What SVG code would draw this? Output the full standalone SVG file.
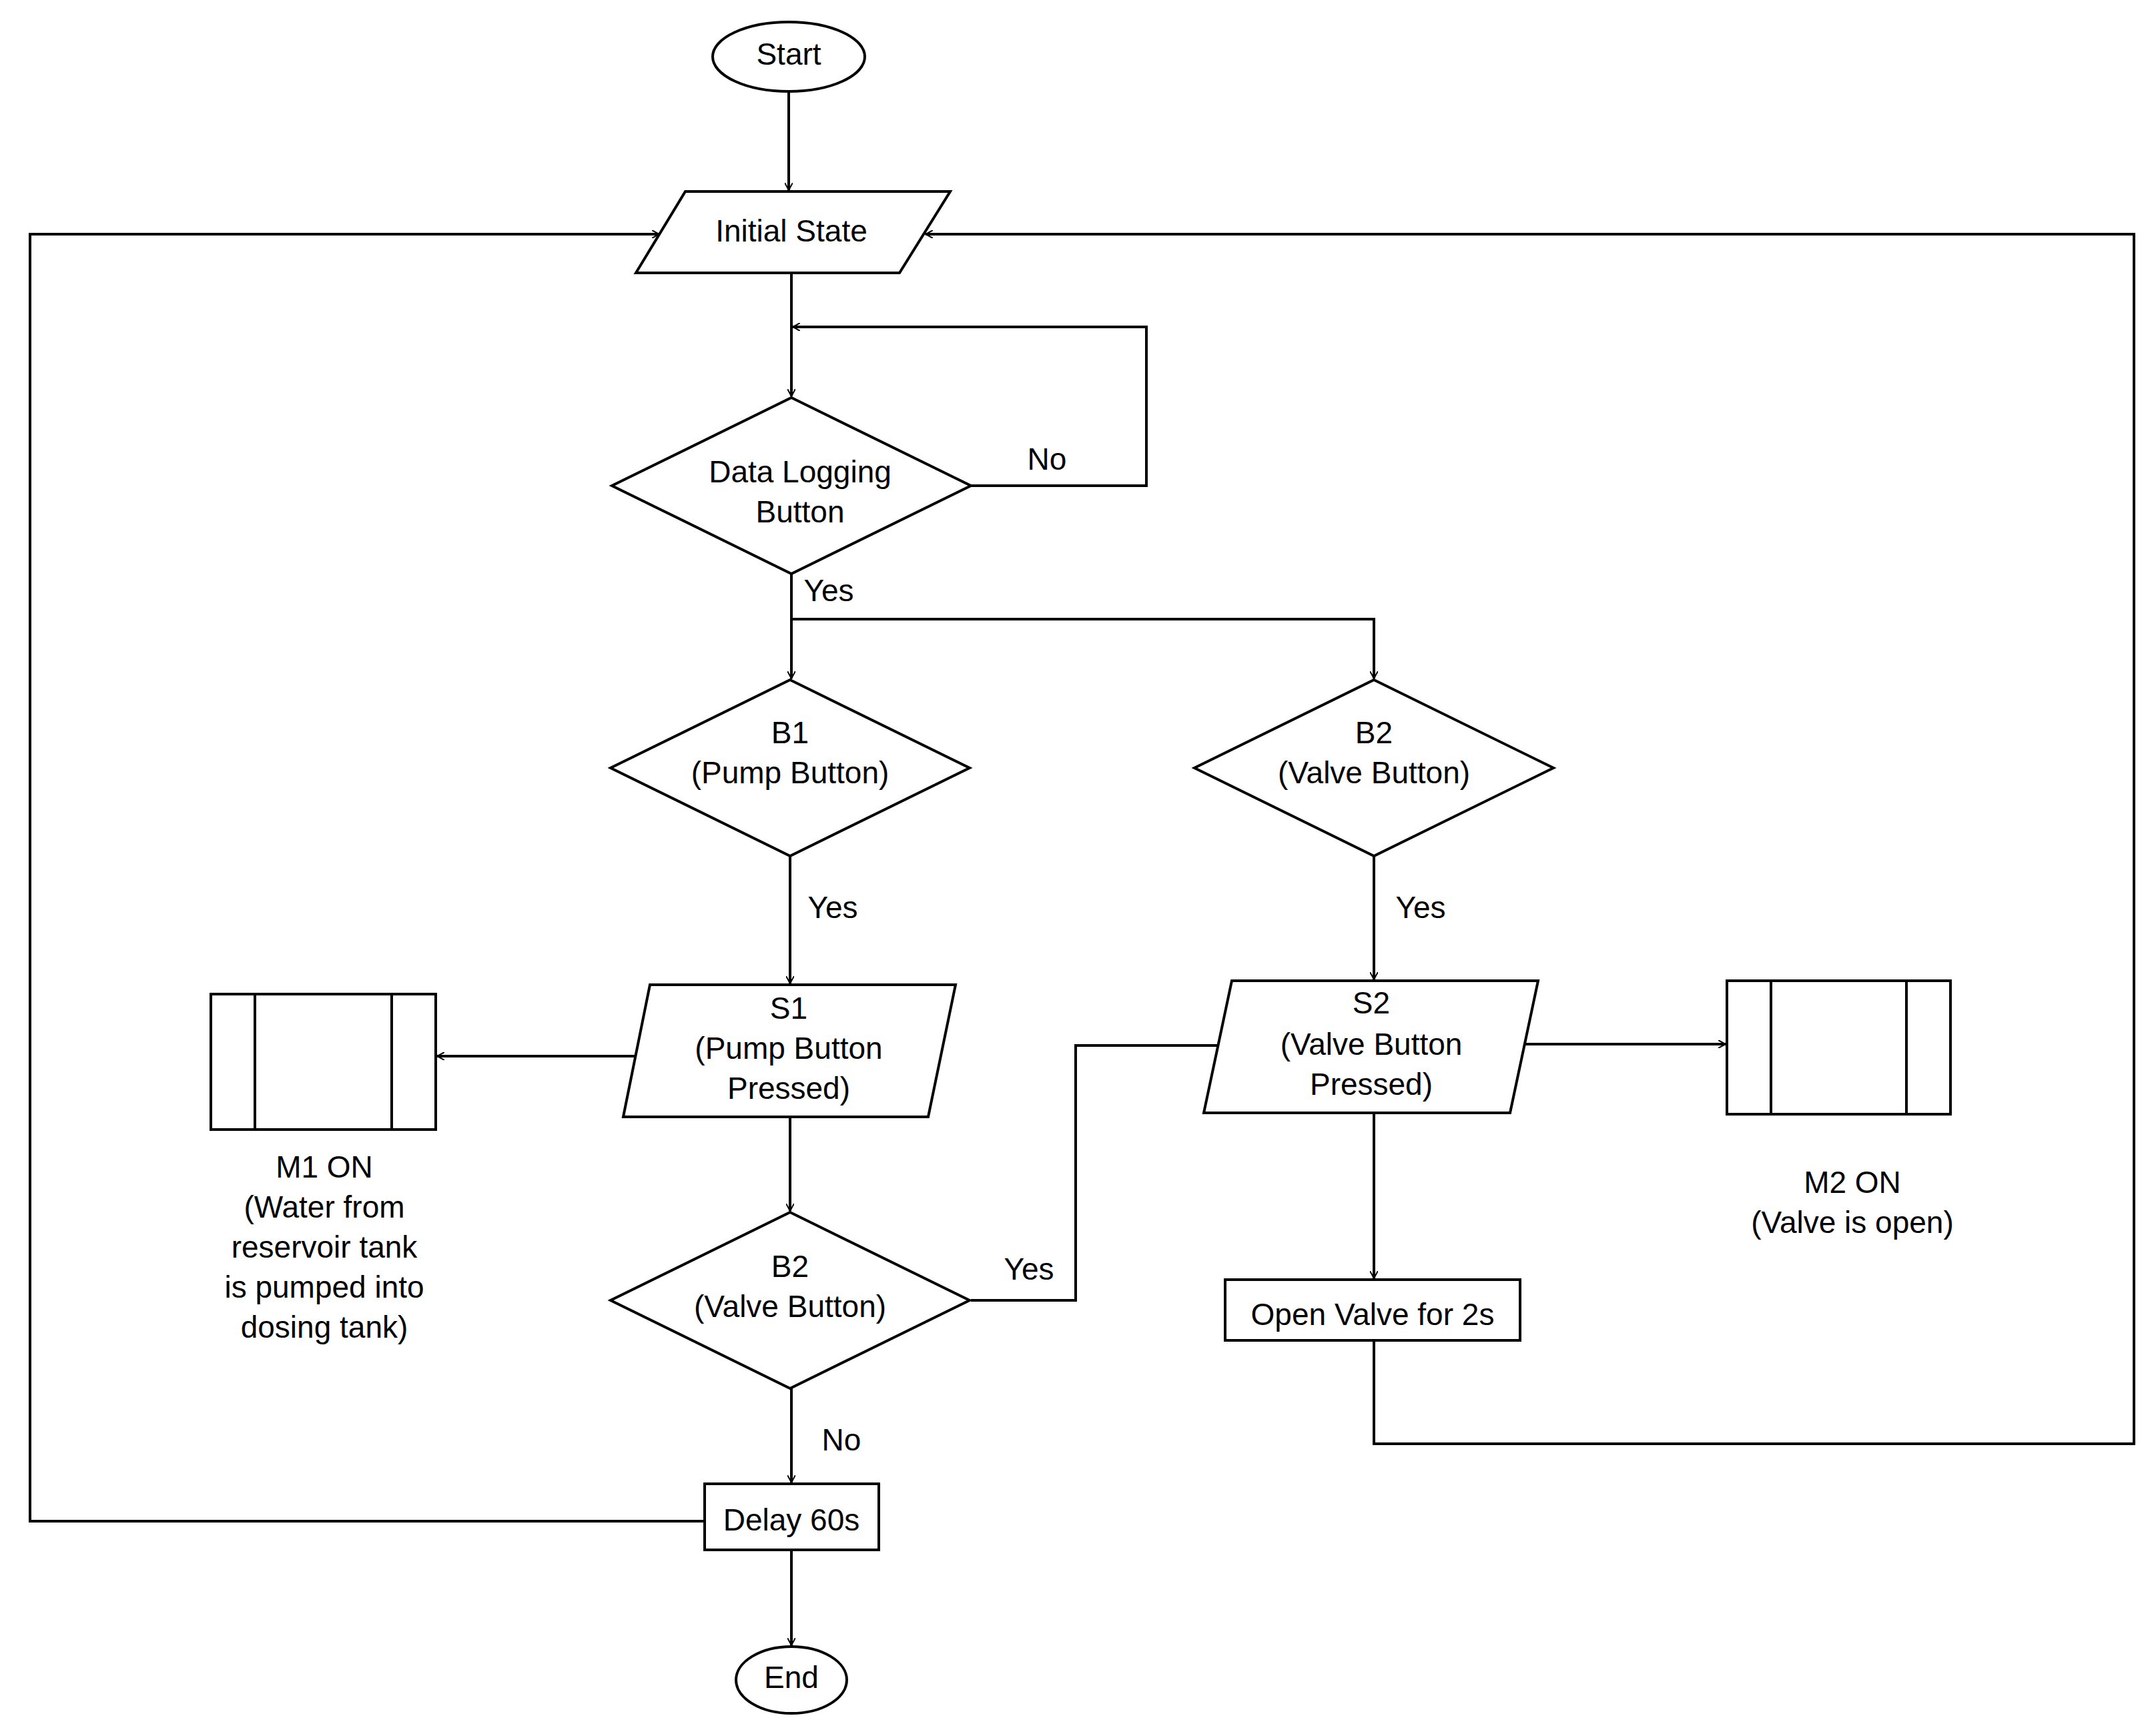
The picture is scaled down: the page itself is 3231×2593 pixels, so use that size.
<svg xmlns="http://www.w3.org/2000/svg" width="3231" height="2593" viewBox="0 0 3231 2593">
<style>
.s{fill:#fff;stroke:#000;stroke-width:4}
.l{fill:none;stroke:#000;stroke-width:4}
text{font-family:"Liberation Sans",Arial,sans-serif;font-size:46px;text-anchor:middle;dominant-baseline:middle;fill:#000}
</style>
<defs><marker id="a" markerWidth="12" markerHeight="12" refX="11" refY="6" orient="auto" markerUnits="userSpaceOnUse" viewBox="0 0 12 12"><path d="M0,0 L11,6 L0,12" fill="none" stroke="#000" stroke-width="2"/></marker></defs>
<rect width="3231" height="2593" fill="#fff"/>
<g id="connectors">
<path class="l" d="M1182,137 V285" marker-end="url(#a)" style="marker-end:url(#a)"/>
<path class="l" d="M1056,2280 H45 V351 H988" marker-end="url(#a)"/>
<path class="l" d="M2059,2009 V2164 H3198 V351 H1387" marker-end="url(#a)"/>
<path class="l" d="M1186,409 V594" marker-end="url(#a)"/>
<path class="l" d="M1455,728 H1718 V490 H1188" marker-end="url(#a)"/>
<path class="l" d="M1186,860 V1017" marker-end="url(#a)"/>
<path class="l" d="M1186,928 H2059 V1017" marker-end="url(#a)"/>
<path class="l" d="M1184,1283 V1474" marker-end="url(#a)"/>
<path class="l" d="M980,1583 H655" marker-end="url(#a)"/>
<path class="l" d="M1184,1674 V1815" marker-end="url(#a)"/>
<path class="l" d="M1455,1949 H1612 V1567 H1858" marker-end="url(#a)"/>
<path class="l" d="M2059,1283 V1468" marker-end="url(#a)"/>
<path class="l" d="M2263,1565 H2586" marker-end="url(#a)"/>
<path class="l" d="M2059,1668 V1916" marker-end="url(#a)"/>
<path class="l" d="M1186,2081 V2222" marker-end="url(#a)"/>
<path class="l" d="M1186,2323 V2466" marker-end="url(#a)"/>
<text x="1569" y="692">No</text>
<text x="1242" y="889">Yes</text>
<text x="1248" y="1364">Yes</text>
<text x="2129" y="1364">Yes</text>
<text x="1542" y="1906">Yes</text>
<text x="1261" y="2162">No</text>
</g>
<g id="start"><ellipse class="s" cx="1182" cy="85" rx="114" ry="52"/><text x="1182" y="85">Start</text></g>
<g id="init"><polygon class="s" points="1027,287 1424,287 1348,409 953,409"/><text x="1186" y="350">Initial State</text></g>
<g id="dl"><polygon class="s" points="1186,596 1455,728 1186,860 917,728"/><text x="1199" y="711">Data Logging</text><text x="1199" y="771">Button</text></g>
<g id="b1"><polygon class="s" points="1184,1019 1453,1151 1184,1283 915,1151"/><text x="1184" y="1102">B1</text><text x="1184" y="1162">(Pump Button)</text></g>
<g id="b2r"><polygon class="s" points="2059,1019 2328,1151 2059,1283 1790,1151"/><text x="2059" y="1102">B2</text><text x="2059" y="1162">(Valve Button)</text></g>
<g id="s1"><polygon class="s" points="974,1476 1432,1476 1391,1674 934,1674"/><text x="1182" y="1515">S1</text><text x="1182" y="1575">(Pump Button</text><text x="1182" y="1635">Pressed)</text></g>
<g id="m1"><rect class="s" x="316" y="1490" width="337" height="203"/><path class="l" d="M382,1490 V1693 M587,1490 V1693"/><text x="486" y="1753">M1 ON</text><text x="486" y="1813">(Water from</text><text x="486" y="1873">reservoir tank</text><text x="486" y="1933">is pumped into</text><text x="486" y="1993">dosing tank)</text></g>
<g id="b2l"><polygon class="s" points="1184,1817 1453,1949 1184,2081 915,1949"/><text x="1184" y="1902">B2</text><text x="1184" y="1962">(Valve Button)</text></g>
<g id="s2"><polygon class="s" points="1846,1470 2305,1470 2263,1668 1804,1668"/><text x="2055" y="1507">S2</text><text x="2055" y="1569">(Valve Button</text><text x="2055" y="1629">Pressed)</text></g>
<g id="m2"><rect class="s" x="2588" y="1470" width="335" height="200"/><path class="l" d="M2654,1470 V1670 M2857,1470 V1670"/><text x="2776" y="1776">M2 ON</text><text x="2776" y="1836">(Valve is open)</text></g>
<g id="ov"><rect class="s" x="1836" y="1918" width="442" height="91"/><text x="2057" y="1974">Open Valve for 2s</text></g>
<g id="delay"><rect class="s" x="1056" y="2224" width="261" height="99"/><text x="1186" y="2282">Delay 60s</text></g>
<g id="end"><ellipse class="s" cx="1186" cy="2518" rx="83" ry="50"/><text x="1186" y="2518">End</text></g>
</svg>
